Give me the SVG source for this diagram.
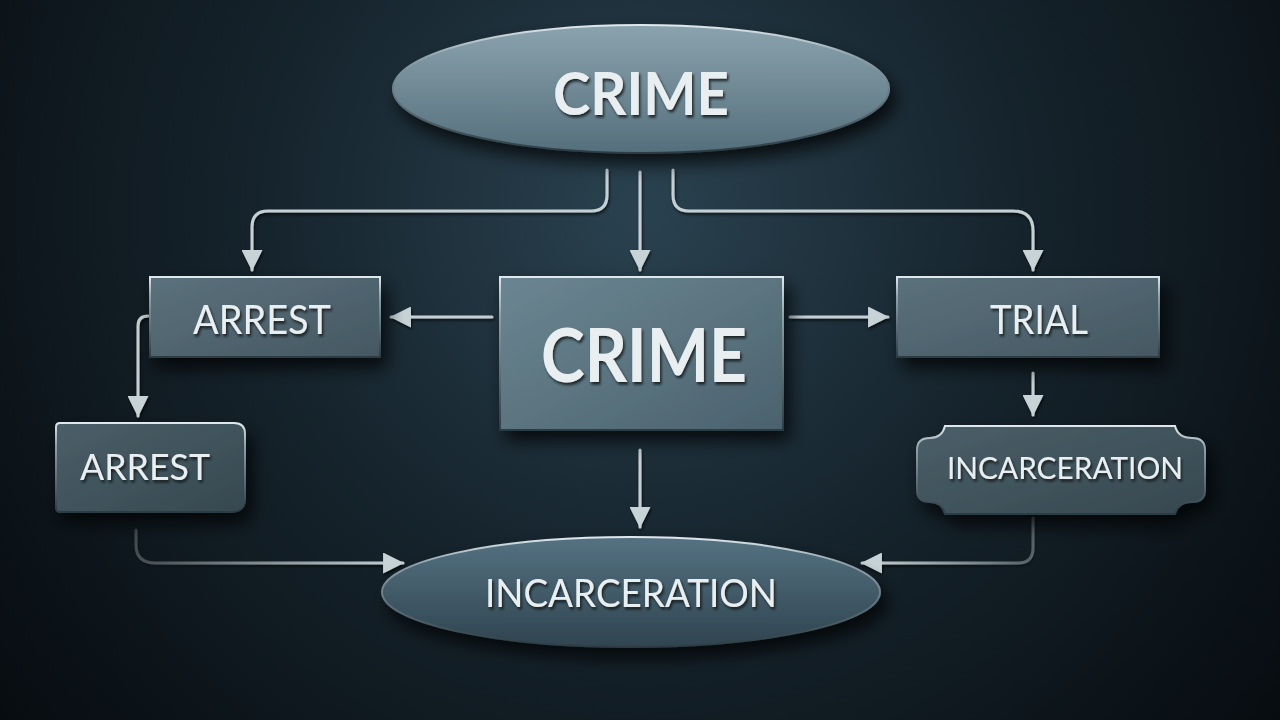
<svg xmlns="http://www.w3.org/2000/svg" width="1280" height="720" viewBox="0 0 1280 720">
<defs>
<radialGradient id="bg" cx="640" cy="210" r="820" gradientUnits="userSpaceOnUse">
<stop offset="0" stop-color="#2a4250"/>
<stop offset="0.45" stop-color="#16242d"/>
<stop offset="1" stop-color="#070c10"/>
</radialGradient>
<linearGradient id="edge" x1="0" y1="0" x2="0" y2="1">
<stop offset="0" stop-color="#dfe8ec"/>
<stop offset="0.25" stop-color="#8ea2ab"/>
<stop offset="1" stop-color="#2c3c44"/>
</linearGradient>
<linearGradient id="gTop" x1="0" y1="0" x2="0" y2="1">
<stop offset="0" stop-color="#8aa3ae"/>
<stop offset="1" stop-color="#556f7c"/>
</linearGradient>
<linearGradient id="gCenter" x1="0" y1="0" x2="1" y2="1">
<stop offset="0" stop-color="#6b8692"/>
<stop offset="1" stop-color="#4b626e"/>
</linearGradient>
<linearGradient id="gBox" x1="0" y1="0" x2="1" y2="1">
<stop offset="0" stop-color="#5b717c"/>
<stop offset="1" stop-color="#455862"/>
</linearGradient>
<linearGradient id="gLow" x1="0" y1="0" x2="1" y2="1">
<stop offset="0" stop-color="#4a5f69"/>
<stop offset="1" stop-color="#37484f"/>
</linearGradient>
<linearGradient id="gBottom" x1="0" y1="0" x2="0" y2="1">
<stop offset="0" stop-color="#557282"/>
<stop offset="1" stop-color="#2f4450"/>
</linearGradient>
<linearGradient id="fadeL" x1="136" y1="0" x2="403" y2="0" gradientUnits="userSpaceOnUse">
<stop offset="0" stop-color="#c5d0d4" stop-opacity="0.25"/>
<stop offset="1" stop-color="#c5d0d4"/>
</linearGradient>
<linearGradient id="fadeR" x1="1033" y1="0" x2="862" y2="0" gradientUnits="userSpaceOnUse">
<stop offset="0" stop-color="#c5d0d4" stop-opacity="0.35"/>
<stop offset="1" stop-color="#c5d0d4"/>
</linearGradient>
<filter id="shadow" x="-20%" y="-30%" width="150%" height="180%">
<feDropShadow dx="6" dy="10" stdDeviation="9" flood-color="#000" flood-opacity="0.75"/>
</filter>
<filter id="tshadow" x="-10%" y="-30%" width="120%" height="170%">
<feDropShadow dx="1.5" dy="2.5" stdDeviation="1.2" flood-color="#0a1216" flood-opacity="0.85"/>
</filter>
<filter id="lshadow" filterUnits="userSpaceOnUse" x="0" y="0" width="1280" height="720">
<feDropShadow dx="1" dy="2" stdDeviation="1.5" flood-color="#000" flood-opacity="0.7"/>
</filter>
<marker id="arr" viewBox="0 0 20 20" refX="19" refY="10" markerWidth="21" markerHeight="21" markerUnits="userSpaceOnUse" orient="auto">
<path d="M0,0 L20,10 L0,20 Z" fill="#c8d3d7"/>
</marker>
<style>
.node{filter:url(#shadow);stroke:url(#edge);stroke-width:2}
.lbl{font-family:Lato,"Open Sans","Liberation Sans",sans-serif;fill:#e9eff1;text-anchor:middle;filter:url(#tshadow)}
.con{fill:none;stroke:#c5d0d4;stroke-width:3;stroke-linecap:round;stroke-linejoin:round;marker-end:url(#arr)}
</style>
</defs>
<rect width="1280" height="720" fill="url(#bg)"/>

<g id="connectors" filter="url(#lshadow)">
<path class="con" d="M607,170 V195 Q607,211 591,211 H268 Q252,211 252,227 V270"/>
<path class="con" d="M640,172 V270"/>
<path class="con" d="M673,170 V195 Q673,211 689,211 H1013 Q1033,211 1033,231 V270"/>
<path class="con" d="M492,317 H391"/>
<path class="con" d="M790,317 H888"/>
<path class="con" d="M148,316 Q138,316 138,326 V416"/>
<path class="con" style="stroke:url(#fadeL)" d="M136,530 V545 Q136,563 156,563 H403"/>
<path class="con" d="M640,450 V527"/>
<path class="con" d="M1033,373 V415"/>
<path class="con" style="stroke:url(#fadeR)" d="M1033,518 V548 Q1033,563 1018,563 H862"/>
</g>

<g id="crime-top">
<ellipse class="node" cx="641" cy="89" rx="248" ry="64" fill="url(#gTop)"/>
<text class="lbl" x="641" y="115" font-size="60" font-weight="700" textLength="176" lengthAdjust="spacingAndGlyphs">CRIME</text>
</g>

<g id="crime-center">
<rect class="node" x="500" y="277" width="283" height="153" fill="url(#gCenter)"/>
<text class="lbl" x="644" y="382" font-size="75" font-weight="700" textLength="206" lengthAdjust="spacingAndGlyphs">CRIME</text>
</g>

<g id="arrest-top">
<rect class="node" x="150" y="277" width="230" height="80" fill="url(#gBox)"/>
<text class="lbl" x="262" y="334" font-size="40" textLength="138" lengthAdjust="spacingAndGlyphs">ARREST</text>
</g>

<g id="trial">
<rect class="node" x="897" y="277" width="262" height="80" fill="url(#gBox)"/>
<text class="lbl" x="1039" y="334" font-size="40" textLength="98" lengthAdjust="spacingAndGlyphs">TRIAL</text>
</g>

<g id="arrest-low">
<path class="node" d="M60,423 H234 Q245,423 245,434 V498 Q245,512 231,512 H60 Q56,512 56,508 V427 Q56,423 60,423 Z" fill="url(#gLow)"/>
<text class="lbl" x="145" y="480" font-size="36" textLength="130" lengthAdjust="spacingAndGlyphs">ARREST</text>
</g>

<g id="incarceration-right">
<path class="node" d="M945,426 H1175 Q1178,438 1192,438 Q1205,438 1205,450 V490 Q1205,502 1192,502 Q1178,502 1175,514 H945 Q942,502 930,502 Q917,502 917,490 V450 Q917,438 930,438 Q942,438 945,426 Z" fill="url(#gLow)"/>
<text class="lbl" x="1065" y="479" font-size="31" textLength="236" lengthAdjust="spacingAndGlyphs">INCARCERATION</text>
</g>

<g id="incarceration-bottom">
<ellipse class="node" cx="631" cy="592" rx="249" ry="55" fill="url(#gBottom)"/>
<text class="lbl" x="631" y="607" font-size="39" textLength="292" lengthAdjust="spacingAndGlyphs">INCARCERATION</text>
</g>
</svg>
